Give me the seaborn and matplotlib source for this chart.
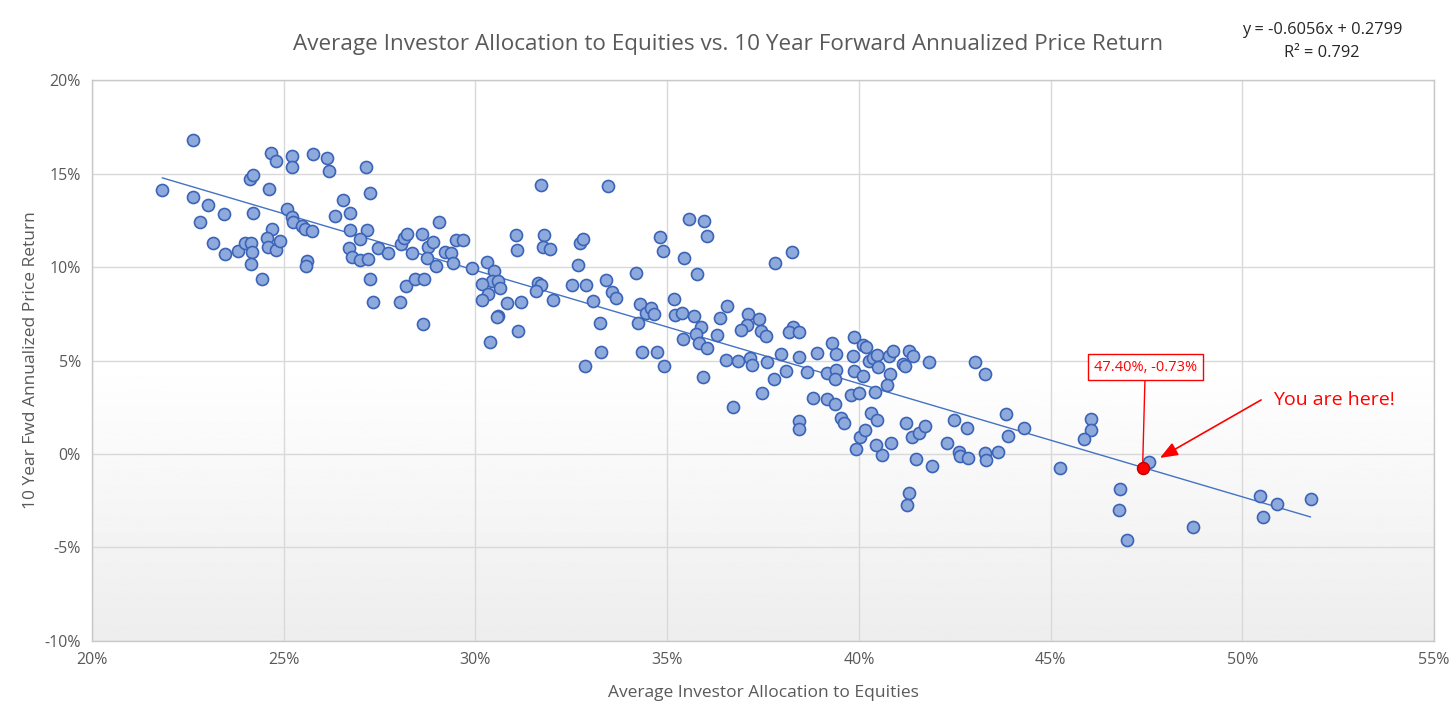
import numpy as np
import pandas as pd
import seaborn as sns
import matplotlib.pyplot as plt
from matplotlib.ticker import FuncFormatter

# =============================================================================
# 数据 (从图中读取, 单位: %)
# =============================================================================
alloc = [
    22.64, 21.83, 22.64, 23.03, 22.82, 23.44, 23.16, 23.48, 23.82, 23.99,
    24.15, 24.18, 24.15, 24.44, 24.21, 24.12, 24.20, 24.62, 24.66, 24.79,
    24.69, 24.56, 24.58, 24.81, 24.90, 25.09, 25.21, 25.24, 25.21, 25.22,
    25.77, 26.12, 26.18, 25.48, 25.56, 25.74, 25.60, 25.58, 26.35,
    27.15, 27.26, 26.55, 26.72, 26.74, 27.18, 27.00, 26.70, 26.78, 27.00,
    27.21, 27.45, 27.73, 27.26, 27.34, 28.07, 28.14, 28.22, 28.35, 28.60,
    28.77, 28.89, 28.74, 28.98, 29.06, 28.18, 28.42, 28.65, 28.02, 28.64,
    29.21, 29.37, 29.42, 29.49, 29.68, 29.91, 30.30, 30.48, 30.43, 30.58,
    30.65, 30.16, 30.34, 30.16, 30.81, 31.19, 30.58, 30.55, 31.05, 31.09,
    30.38, 31.10,
    31.70, 33.46, 31.79, 31.77, 31.94, 32.73, 32.81, 32.67, 31.64, 31.72,
    31.58, 32.02, 32.53, 32.88, 33.07, 33.41, 33.55, 33.66, 33.26, 33.27,
    32.86, 34.18, 34.29, 34.45, 34.58, 34.65, 34.24, 34.34, 34.74, 34.92,
    34.81, 34.90, 35.43, 35.57, 35.95, 36.04, 35.77, 35.17, 35.20, 35.39,
    35.69, 35.88, 35.74, 35.41, 35.84, 36.04, 36.30, 35.93, 36.38,
    38.25, 37.82, 36.57, 37.10, 37.07, 36.93, 37.40, 37.45, 37.58, 36.54,
    36.86, 37.16, 37.21, 37.61, 37.98, 38.10, 37.78, 37.48, 36.72, 38.27,
    38.19, 38.44, 38.44, 38.66, 38.91, 39.31, 39.40, 39.16, 39.41, 39.38,
    38.80, 39.18, 39.37, 38.44, 38.45, 39.53, 39.62, 39.86, 39.85, 39.87,
    40.12, 39.80, 40.00, 40.11, 40.19, 40.26, 40.38, 40.47, 40.49, 40.78,
    40.90, 40.82, 40.73, 40.42, 40.31, 40.46,
    41.32, 41.42, 41.16, 41.21, 41.83, 43.04, 43.28, 41.23, 41.39, 41.56,
    41.73, 40.84, 40.60, 41.50, 41.90, 42.31, 42.49, 42.81, 42.62, 42.64,
    42.85, 43.29, 43.32, 43.62, 43.83, 43.88, 44.30, 45.25, 46.05, 46.05,
    45.88, 39.93, 40.02, 40.17, 40.44, 41.31, 41.25, 47.57, 46.82, 46.79,
    47.00, 48.72, 50.45, 50.90, 50.53, 51.78,
]
fwd_return = [
    16.79, 14.12, 13.73, 13.32, 12.42, 12.83, 11.30, 10.70, 10.86, 11.30,
    11.27, 10.79, 10.14, 9.37, 12.87, 14.72, 14.94, 14.16, 16.11, 15.67,
    12.02, 11.57, 11.07, 10.93, 11.37, 13.10, 12.69, 12.39, 15.95, 15.35,
    16.06, 15.83, 15.12, 12.19, 12.02, 11.91, 10.32, 10.07, 12.74,
    15.36, 13.97, 13.58, 12.87, 11.99, 11.96, 11.50, 11.02, 10.53, 10.39,
    10.43, 11.02, 10.75, 9.36, 8.13, 11.21, 11.53, 11.78, 10.75, 11.78,
    11.07, 11.34, 10.47, 10.07, 12.39, 8.97, 9.34, 9.37, 8.11, 6.97,
    10.82, 10.73, 10.23, 11.46, 11.44, 9.95, 10.25, 9.77, 9.24, 9.24,
    8.86, 9.09, 8.56, 8.25, 8.09, 8.13, 7.36, 7.31, 11.71, 10.89,
    6.01, 6.56,
    14.39, 14.32, 11.73, 11.09, 10.98, 11.30, 11.50, 10.11, 9.16, 9.02,
    8.72, 8.22, 9.02, 9.02, 8.20, 9.30, 8.65, 8.33, 7.01, 5.45,
    4.69, 9.66, 8.01, 7.52, 7.81, 7.49, 7.02, 5.45, 5.44, 4.69,
    11.62, 10.84, 10.47, 12.58, 12.46, 11.66, 9.61, 8.29, 7.42, 7.54,
    7.40, 6.78, 6.42, 6.13, 5.92, 5.65, 6.36, 4.10, 7.27,
    10.79, 10.20, 7.90, 7.50, 6.91, 6.65, 7.22, 6.59, 6.29, 5.01,
    4.99, 5.12, 4.78, 4.90, 5.33, 4.45, 3.99, 3.28, 2.53, 6.78,
    6.54, 6.51, 5.17, 4.39, 5.42, 5.94, 5.36, 4.35, 4.49, 4.01,
    3.01, 2.94, 2.69, 1.75, 1.34, 1.91, 1.67, 6.24, 5.22, 4.45,
    4.19, 3.16, 3.28, 5.84, 5.71, 4.99, 5.15, 5.28, 4.64, 5.26,
    5.52, 4.28, 3.67, 3.32, 2.18, 1.80,
    5.52, 5.24, 4.83, 4.71, 4.94, 4.94, 4.26, 1.67, 0.93, 1.11,
    1.48, 0.59, -0.05, -0.28, -0.64, 0.60, 1.82, 1.41, 0.09, -0.09,
    -0.20, 0.05, -0.34, 0.09, 2.12, 0.96, 1.37, -0.75, 1.89, 1.28,
    0.80, 0.28, 0.89, 1.28, 0.50, -2.07, -2.73, -0.44, -1.87, -2.99,
    -4.61, -3.90, -2.23, -2.66, -3.35, -2.41,
]

# 当前位置
current_x = [47.40]
current_y = [-0.73]

# 趋势线参数 (Excel 线性拟合)
slope = -0.6056
intercept = 0.2799
r2 = 0.792

title = "Average Investor Allocation to Equities vs. 10 Year Forward Annualized Price Return"
x_label = "Average Investor Allocation to Equities"
y_label = "10 Year Fwd Annualized Price Return"

# =============================================================================
# 样式
# =============================================================================
sns.set_theme(style="white")
plt.rcParams['font.family'] = ['Open Sans', 'DejaVu Sans']
GRAY = "#595959"

df = pd.DataFrame({"alloc": alloc, "ret": fwd_return})
xs = np.array([min(alloc), max(alloc)])
trend = pd.DataFrame({"alloc": xs, "ret": (slope * xs / 100 + intercept) * 100})
cur = pd.DataFrame({"alloc": current_x, "ret": current_y})

fig = plt.figure(figsize=(14.56, 7.10), dpi=100)
ax = fig.add_axes([0.0632, 0.0972, 0.9217, 0.7901])

# 背景渐变 (下半部分略灰)
yy = np.linspace(20, -10, 300)
shade = np.where(yy > 5, 1.0, 1.0 - (5 - yy) / 15 * 0.07)
ax.imshow(shade[:, None], extent=[20, 55, -10, 20], aspect='auto',
          cmap='gray', vmin=0, vmax=1, zorder=0)

sns.lineplot(data=trend, x="alloc", y="ret", ax=ax, color="#4472C4", lw=1.0, zorder=2)
sns.scatterplot(data=df, x="alloc", y="ret", ax=ax, s=75, color="#8EA9DB",
                edgecolor="#3B64B8", linewidth=1.2, zorder=3)
sns.scatterplot(data=cur, x="alloc", y="ret", ax=ax, s=75, color="#FF0000",
                edgecolor="#C00000", linewidth=1.0, zorder=4)

ax.set_xlim(20, 55)
ax.set_ylim(-10, 20)
ax.set_xticks(np.arange(20, 56, 5))
ax.set_yticks(np.arange(-10, 21, 5))
ax.xaxis.set_major_formatter(FuncFormatter(lambda v, p: f"{v:.0f}%"))
ax.yaxis.set_major_formatter(FuncFormatter(lambda v, p: f"{v:.0f}%"))
ax.grid(True, color="#D9D9D9", lw=1.0)
ax.set_axisbelow(True)
for sp in ax.spines.values():
    sp.set_color("#C8C8C8")
    sp.set_linewidth(1.0)
ax.tick_params(axis='both', colors=GRAY, labelsize=11.5, length=0, pad=8)

ax.set_xlabel(x_label, color=GRAY, fontsize=12.5, labelpad=12)
ax.set_ylabel(y_label, color=GRAY, fontsize=12.5, labelpad=4)
fig.text(0.5, 0.937, title, ha='center', va='center', color=GRAY, fontsize=16.2)
fig.text(0.908, 0.958, f"y = {slope}x + {intercept}", ha='center', va='center',
         color="#262626", fontsize=11.8)
fig.text(0.908, 0.926, f"R² = {r2}", ha='center', va='center',
         color="#262626", fontsize=11.8)

# 标注
ax.annotate(f"{current_x[0]:.2f}%, {current_y[0]:.2f}%",
            xy=(current_x[0], current_y[0]), xytext=(47.47, 4.65),
            ha='center', va='center', color="#FF0000", fontsize=10.5,
            bbox=dict(boxstyle='square,pad=0.4', fc='white', ec='#FF0000', lw=1.0),
            arrowprops=dict(arrowstyle='-', color='#FF0000', lw=1.0,
                            shrinkA=0, shrinkB=0))
ax.annotate("", xy=(47.85, -0.21), xytext=(50.49, 2.89),
            arrowprops=dict(arrowstyle='-|>,head_length=0.9,head_width=0.35',
                            color='#FF0000', lw=1.2, shrinkA=0, shrinkB=0))
ax.text(50.8, 2.89, "You are here!", color="#FF0000", fontsize=14,
        ha='left', va='center')

fig.savefig("out.png", dpi=100)
